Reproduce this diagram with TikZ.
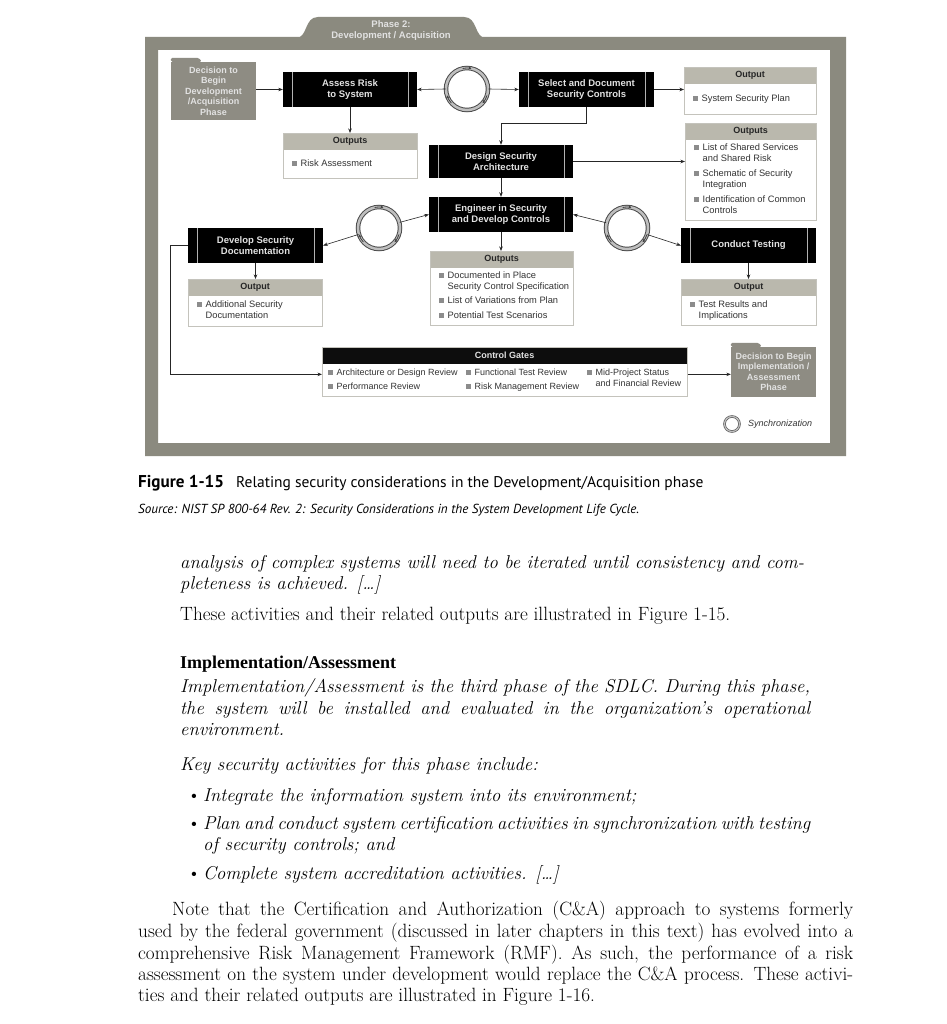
\documentclass[tikz,border=0pt]{standalone}
\usepackage{fontspec}
\newfontfamily\diagfont{Liberation Sans}
\newfontfamily\capfont{PT Sans}
\newfontfamily\headfont{Liberation Serif}
\usepackage{xcolor}
\definecolor{framegray}{HTML}{8B8A7F}
\definecolor{headgray}{HTML}{BAB8AD}
\definecolor{foldergray}{HTML}{8E8C83}
\definecolor{boxtext}{HTML}{E2E2E2}
\definecolor{bulletgray}{HTML}{8C8C8C}
\definecolor{rulegray}{HTML}{C4C3BC}
\usetikzlibrary{arrows.meta, calc}

\newcommand\sq{\textcolor{bulletgray}{\rule[0.5pt]{5pt}{5pt}}}

\begin{document}
\begin{tikzpicture}[x=1pt, y=-1pt,
  task/.style={fill=black, text=boxtext, font=\diagfont\bfseries\fontsize{9.5}{11}\selectfont,
    align=center, inner sep=0pt, minimum height=35pt,
    path picture={\draw[white!70!black, line width=0.8pt]
      ([xshift=9pt]path picture bounding box.north west) -- ([xshift=9pt]path picture bounding box.south west)
      ([xshift=-9pt]path picture bounding box.north east) -- ([xshift=-9pt]path picture bounding box.south east);}},
  outbox/.style={draw=rulegray, line width=0.7pt, fill=white, anchor=north west, inner sep=0pt,
    path picture={\fill[headgray] (path picture bounding box.north west)
      rectangle ([yshift=-17pt]path picture bounding box.north east);}},
  headtxt/.style={font=\diagfont\bfseries\fontsize{9}{11}\selectfont, text=black!85, inner sep=0pt},
  itemtxt/.style={font=\diagfont\fontsize{9.3}{11}\selectfont, text=black!80, inner sep=0pt, anchor=west},
  folder/.style={fill=foldergray, text=boxtext, font=\diagfont\bfseries\fontsize{9}{10.5}\selectfont,
    align=center, inner sep=0pt, minimum width=85pt},
  sync/.style={circle, minimum size=42pt, draw=black!70, line width=1pt, double=black!25,
    double distance=2.5pt, inner sep=0pt},
  flow/.style={-{Stealth[length=4.5pt,width=3.5pt]}, line width=0.6pt, black!85},
  body/.style={anchor=base west, inner sep=0pt, font=\fontsize{19.2}{21.5}\selectfont},
  bodyit/.style={body, font=\itshape\fontsize{18.6}{21.5}\selectfont},
]
  \useasboundingbox (0,0) rectangle (946,1024);
  \fill[white] (0,0) rectangle (946,1024);

  % frame and tab
  \fill[framegray, even odd rule] (145,37) rectangle (846,456) (158,50) rectangle (830,443);
  \fill[framegray] (296,38) .. controls (308,38) and (304,17) .. (318,17) -- (464,17)
    .. controls (478,17) and (474,38) .. (486,38) -- cycle;
  \node[font=\diagfont\bfseries\fontsize{9.5}{11}\selectfont, text=boxtext, align=center, inner sep=0pt]
    (phase) at (391,30.5) {Phase 2:\\Development / Acquisition};

  % folders
  \node[folder, minimum height=58pt] (dec1) at (213.5,91)
    {Decision to\\Begin\\Development\\/Acquisition\\Phase};
  \node[folder, minimum height=50pt] (dec2) at (773.5,372)
    {Decision to Begin\\Implementation /\\Assessment\\Phase};
  \foreach \f in {dec1,dec2}{
    \fill[foldergray, rounded corners=1.5pt] (\f.north west) -- ([yshift=4pt]\f.north west)
      -- ([xshift=28pt,yshift=4pt]\f.north west) -- ([xshift=31pt]\f.north west) -- cycle;
  }

  % activities
  \node[task, minimum width=134pt] (assess) at (350,89.5) {Assess Risk\\to System};
  \node[task, minimum width=135pt] (select) at (586.5,89.5) {Select and Document\\Security Controls};
  \node[task, minimum width=144pt, minimum height=33pt] (design) at (501,161.5) {Design Security\\Architecture};
  \node[task, minimum width=144pt] (engineer) at (501,214.5) {Engineer in Security\\and Develop Controls};
  \node[task, minimum width=135pt] (develop) at (255.5,245.5) {Develop Security\\Documentation};
  \node[task, minimum width=135pt] (testing) at (748.5,245.5) {Conduct Testing};

  % outputs
  \foreach \nm/\x/\y/\w/\h/\ttl/\its in {
    out1/684/67/132/47/Output/{\sq & System Security Plan},
    out2/283/133/134/45/Outputs/{\sq & Risk Assessment},
    out3/685/123/131/97/Outputs/{\sq & List of Shared Services\\ & and Shared Risk\\[4pt]
      \sq & Schematic of Security\\ & Integration\\[4pt] \sq & Identification of Common\\ & Controls},
    out4/430/251/143/74/Outputs/{\sq & Documented in Place\\ & Security Control Specification\\[3pt]
      \sq & List of Variations from Plan\\[4pt] \sq & Potential Test Scenarios},
    out5/188/279/134/47/Output/{\sq & Additional Security\\ & Documentation},
    out6/681/279/135/46/Output/{\sq & Test Results and\\ & Implications}}{
    \node[outbox, minimum width=\w pt, minimum height=\h pt] (\nm) at (\x,\y) {};
    \node[headtxt] at ({\x+\w/2},{\y+8.5}) {\ttl};
    \node[itemtxt] at ({\x+9},{\y+8.5+\h/2})
      {\begin{tabular}{@{}l@{\hspace{3.5pt}}l@{}}\its\end{tabular}};
  }

  % control gates
  \node[outbox, minimum width=365pt, minimum height=49pt,
    path picture={\fill[black!95] (path picture bounding box.north west)
      rectangle ([yshift=-17pt]path picture bounding box.north east);}] (gates) at (322,347) {};
  \node[headtxt, text=boxtext] at (504.5,355.5) {Control Gates};
  \node[itemtxt, font=\diagfont\fontsize{9}{11}\selectfont] at (328,380) {\begin{tabular}{@{}l@{\hspace{3.5pt}}l@{}}
    \sq & Architecture or Design Review\\[3pt] \sq & Performance Review\end{tabular}};
  \node[itemtxt, font=\diagfont\fontsize{9}{11}\selectfont] at (466,380) {\begin{tabular}{@{}l@{\hspace{3.5pt}}l@{}}
    \sq & Functional Test Review\\[3pt] \sq & Risk Management Review\end{tabular}};
  \node[itemtxt, font=\diagfont\fontsize{9}{11}\selectfont] at (587,379) {\begin{tabular}{@{}l@{\hspace{3.5pt}}l@{}}
    \sq & Mid-Project Status\\ & and Financial Review\end{tabular}};

  % synchronization points
  \node[sync] (s1) at (467,89) {};
  \node[sync] (s2) at (379,228) {};
  \node[sync] (s3) at (627,228) {};
  \foreach \s in {s1,s2,s3}{
    \foreach \a in {90,-30,210}{
      \draw[black!75, line width=0.8pt, -{Stealth[length=3pt,width=3.5pt]}]
        ([shift={({\a+12}:21pt)}]\s.center) arc[start angle=\a+12, end angle=\a-12, radius=21pt];
    }
  }

  % connectors
  \draw[flow] (dec1.east |- assess.west) -- (assess.west);
  \draw[flow] (s1.west) -- (assess.east);
  \draw[flow] (s1.east) -- (select.west);
  \draw[flow] (select.east) -- (select.east -| out1.west);
  \draw[flow] (assess.south) -- (assess.south |- out2.north);
  \draw[flow] (select.south) -- ++(0,16) -| (design.north);
  \draw[flow] (design.east) -- (design.east -| out3.west);
  \draw[flow] (design.south) -- (engineer.north);
  \draw[flow] (engineer.south) -- (engineer.south |- out4.north);
  \draw[flow] (s2) -- (engineer.west);
  \draw[flow] (s2) -- (develop.east);
  \draw[flow] (s3) -- (engineer.east);
  \draw[flow] (s3) -- (testing.west);
  \draw[flow] (develop.south) -- (develop.south |- out5.north);
  \draw[flow] (testing.south) -- (testing.south |- out6.north);
  \draw[flow] (develop.west) -- ++(-18,0) |- ([yshift=-2.5pt]gates.west);
  \draw[flow] ([yshift=-2.5pt]gates.east) -- ([yshift=-2.5pt]gates.east -| dec2.west);

  % legend
  \node[sync, minimum size=15pt, line width=0.6pt, double distance=1.3pt] (leg) at (732,424) {};
  \node[itemtxt, font=\diagfont\itshape\fontsize{9}{11}\selectfont] (legtxt) at (748,424) {Synchronization};

  % caption
  \node[anchor=base west, inner sep=0pt, font=\capfont\bfseries\fontsize{17.1}{20}\selectfont]
    (fig) at (138,487) {Figure 1-15};
  \node[anchor=base west, inner sep=0pt, font=\capfont\fontsize{15.5}{17}\selectfont]
    (figtxt) at (236,487) {Relating security considerations in the Development/Acquisition phase};
  \node[anchor=base west, inner sep=0pt, font=\capfont\itshape\fontsize{13.1}{14}\selectfont]
    (src) at (138,513) {Source: NIST SP 800-64 Rev. 2: Security Considerations in the System Development Life Cycle.};

  % page text
  \node[bodyit] (t1) at (180,568) {\makebox[624pt][s]{analysis of complex systems will need to be iterated until consistency and com-}};
  \node[bodyit] (t2) at (180,589) {pleteness is achieved. [\dots]};
  \node[body] (t3) at (180,620) {These activities and their related outputs are illustrated in Figure 1-15.};
  \node[body, font=\headfont\bfseries\fontsize{18}{21.5}\selectfont] (t4) at (180,668) {Implementation/Assessment};
  \node[bodyit] (t5) at (180,692) {\makebox[630pt][s]{Implementation/Assessment is the third phase of the SDLC. During this phase,}};
  \node[bodyit] (t6) at (180,714) {\makebox[630pt][s]{the system will be installed and evaluated in the organization's operational}};
  \node[bodyit] (t7) at (180,735) {environment.};
  \node[bodyit] (t8) at (180,770) {Key security activities for this phase include:};
  \foreach \yb in {801,829,879}{ \node[body] at (187,\yb) {\textbullet}; }
  \node[bodyit] (t9) at (203,801) {Integrate the information system into its environment;};
  \node[bodyit] (t10) at (203,829) {\makebox[607pt][s]{Plan and conduct system certification activities in synchronization with testing}};
  \node[bodyit] (t11) at (203,850) {of security controls; and};
  \node[bodyit] (t12) at (203,879) {Complete system accreditation activities. [\dots]};
  \node[body] (t13) at (172,915) {\makebox[681pt][s]{Note that the Certification and Authorization (C\&A) approach to systems formerly}};
  \node[body] (t14) at (138,937) {\makebox[715pt][s]{used by the federal government (discussed in later chapters in this text) has evolved into a}};
  \node[body] (t15) at (138,959) {\makebox[715pt][s]{comprehensive Risk Management Framework (RMF). As such, the performance of a risk}};
  \node[body] (t16) at (138,980) {\makebox[715pt][s]{assessment on the system under development would replace the C\&A process. These activi-}};
  \node[body] (t17) at (138,1001) {ties and their related outputs are illustrated in Figure 1-16.};
\end{tikzpicture}
\end{document}
